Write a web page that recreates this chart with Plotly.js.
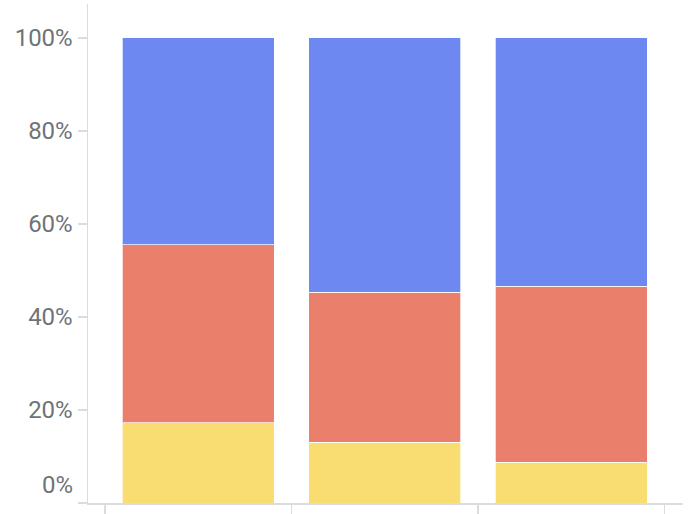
<!DOCTYPE html>
<html>
<head>
<meta charset="utf-8">
<script src="https://cdn.plot.ly/plotly-3.0.1.min.js"></script>
<style>html,body{margin:0;padding:0;background:#fff;}#chart{width:700px;height:514px;}</style>
</head>
<body>
<div id="chart"></div>
<script>
const categories = ['A', 'B', 'C'];
const yellowValues = [17.3, 13.1, 8.8];
const redValues = [38.2, 32.2, 37.8];
const blueValues = [44.5, 54.7, 53.4];
const yTickValues = [0, 20, 40, 60, 80, 100];
const yTickLabels = ['', '20%', '40%', '60%', '80%', '100%'];

const line = {color: 'rgba(255,255,255,0.7)', width: 1};
const traces = [
  {type: 'bar', x: categories, y: yellowValues, name: 'Yellow', marker: {color: '#f9dd71', line: line}, width: 0.815},
  {type: 'bar', x: categories, y: redValues, name: 'Red', marker: {color: '#ea7f6b', line: line}, width: 0.815},
  {type: 'bar', x: categories, y: blueValues, name: 'Blue', marker: {color: '#6d89f1', line: line}, width: 0.815}
];

const layout = {
  width: 700, height: 514,
  margin: {l: 88, r: 17, t: 4, b: 11, pad: 0},
  barmode: 'stack',
  showlegend: false,
  paper_bgcolor: '#fff', plot_bgcolor: '#fff',
  font: {family: 'Roboto, sans-serif', size: 24, color: '#6f7378'},
  xaxis: {
    type: 'category', range: [-0.59, 2.6],
    showticklabels: false, tickson: 'boundaries', ticks: 'outside', ticklen: 12,
    tickcolor: '#dadce0', tickwidth: 1.5,
    showline: true, linecolor: '#dadce0', linewidth: 1.5,
    showgrid: false, zeroline: false, fixedrange: true
  },
  yaxis: {
    range: [0, 107.3], tickvals: yTickValues, ticktext: yTickLabels,
    ticks: 'outside', ticklen: 9, tickcolor: '#dadce0', tickwidth: 1.5,
    showline: true, linecolor: '#dadce0', linewidth: 1.5,
    showgrid: false, zeroline: false, fixedrange: true,
    tickfont: {family: 'Roboto, sans-serif', size: 24, color: '#6f7378'}
  },
  annotations: [{
    text: '0%', xref: 'paper', yref: 'y', x: 0, y: 0,
    xanchor: 'right', yanchor: 'middle', xshift: -13, yshift: 18, showarrow: false,
    font: {family: 'Roboto, sans-serif', size: 24, color: '#6f7378'}
  }]
};

Plotly.newPlot('chart', traces, layout, {displayModeBar: false, staticPlot: true});
</script>
</body>
</html>
